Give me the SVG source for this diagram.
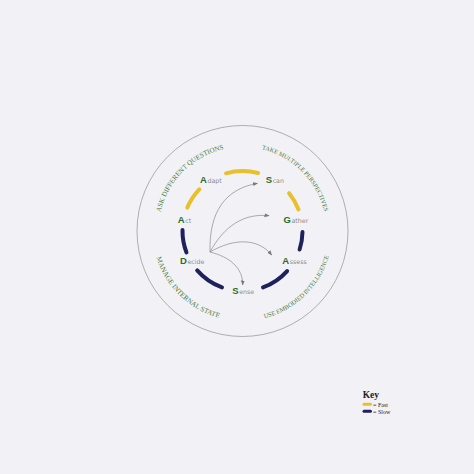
<svg xmlns="http://www.w3.org/2000/svg" width="474" height="474" viewBox="0 0 474 474">
<style>
.seg{fill:none;stroke-width:4;stroke-linecap:round}
.fast{stroke:#e6c12b}
.slow{stroke:#1e215c}
.big{font-family:"Liberation Sans",Arial,sans-serif;font-weight:bold;font-size:9.5px;fill:#2e6a2a}
.small{font-family:"DejaVu Sans",sans-serif;font-size:6.3px;fill:#8c8c8c}
.arc{font-family:"Liberation Serif",serif;fill:#4a7a3c}
.conn{fill:none;stroke:#8a8a8a;stroke-width:0.7}
.key{font-family:"Liberation Serif",serif;fill:#222}
</style>
<defs>
<marker id="ah" viewBox="0 0 10 10" refX="9" refY="5" markerWidth="5" markerHeight="5" orient="auto" markerUnits="userSpaceOnUse">
<path d="M0,1 L10,5 L0,9 Z" fill="#7a7a7a"/>
</marker>
<path id="tl" d="M161.0,210.7 A84,84 0 0 1 222.2,149.5"/>
<path id="tr" d="M262.8,149.5 A84,84 0 0 1 324.0,210.7"/>
<path id="bl" d="M155.6,254.3 A90,90 0 0 0 222.3,318.7"/>
<path id="br" d="M262.7,318.7 A90,90 0 0 0 329.4,254.3"/>
</defs>
<rect width="474" height="474" fill="#f2f2f6"/>
<g id="outer-ring">
<circle cx="242.5" cy="231" r="105.5" fill="none" stroke="#9c9c9c" stroke-width="0.8"/>
<text class="arc" font-size="7"><textPath href="#tl" startOffset="50%" text-anchor="middle">ASK DIFFERENT QUESTIONS</textPath></text>
<text class="arc" font-size="6.2"><textPath href="#tr" startOffset="50%" text-anchor="middle">TAKE MULTIPLE PERSPECTIVES</textPath></text>
<text class="arc" font-size="7.1"><textPath href="#bl" startOffset="50%" text-anchor="middle">MANAGE INTERNAL STATE</textPath></text>
<text class="arc" font-size="6.3"><textPath href="#br" startOffset="50%" text-anchor="middle">USE EMBODIED INTELLIGENCE</textPath></text>
</g>
<g id="inner-ring">
<path class="seg fast" d="M226.0,173.3 A60,60 0 0 1 258.0,173.0"/>
<path class="seg fast" d="M187.3,207.6 A60,60 0 0 1 199.3,189.3"/>
<path class="seg fast" d="M289.1,193.2 A60,60 0 0 1 298.5,209.5"/>
<path class="seg slow" d="M186.5,252.5 A60,60 0 0 1 182.5,230.0"/>
<path class="seg slow" d="M302.5,232.0 A60,60 0 0 1 299.6,249.5"/>
<path class="seg slow" d="M222.0,287.4 A60,60 0 0 1 197.2,270.4"/>
<path class="seg slow" d="M287.1,271.1 A60,60 0 0 1 263.0,287.4"/>
</g>
<g id="connectors">
<path class="conn" marker-end="url(#ah)" d="M210,252 C209,212 225,189 257.5,183.3"/>
<path class="conn" marker-end="url(#ah)" d="M210,252 C224,226 244,213 269,215.7"/>
<path class="conn" marker-end="url(#ah)" d="M210,252 C234,238 258,238 271.7,255"/>
<path class="conn" marker-end="url(#ah)" d="M210,252 C230,257 243,268 242.7,285"/>
</g>
<g id="node-adapt"><text x="200" y="182.5"><tspan class="big">A</tspan><tspan class="small" dx="0.6">dapt</tspan></text></g>
<g id="node-scan"><text x="265.7" y="183.3"><tspan class="big">S</tspan><tspan class="small" dx="0.6">can</tspan></text></g>
<g id="node-gather"><text x="283.5" y="222.7"><tspan class="big">G</tspan><tspan class="small" dx="0.6">ather</tspan></text></g>
<g id="node-assess"><text x="282.3" y="264.3"><tspan class="big">A</tspan><tspan class="small" dx="0.6">ssess</tspan></text></g>
<g id="node-sense"><text x="232.2" y="293.6"><tspan class="big">S</tspan><tspan class="small" dx="0.6">ense</tspan></text></g>
<g id="node-decide"><text x="180" y="264.3"><tspan class="big">D</tspan><tspan class="small" dx="0.6">ecide</tspan></text></g>
<g id="node-act"><text x="177.7" y="222.7"><tspan class="big">A</tspan><tspan class="small" dx="0.6">ct</tspan></text></g>
<g id="key">
<text class="key" x="362.7" y="398.3" font-size="9.5" font-weight="bold">Key</text>
<line x1="364" y1="404.3" x2="370.5" y2="404.3" stroke="#e6c12b" stroke-width="3" stroke-linecap="round"/>
<text class="key" x="373" y="406.5" font-size="6">= Fast</text>
<line x1="364" y1="411.3" x2="370.5" y2="411.3" stroke="#1e215c" stroke-width="3" stroke-linecap="round"/>
<text class="key" x="373" y="413.5" font-size="6">= Slow</text>
</g>
</svg>
